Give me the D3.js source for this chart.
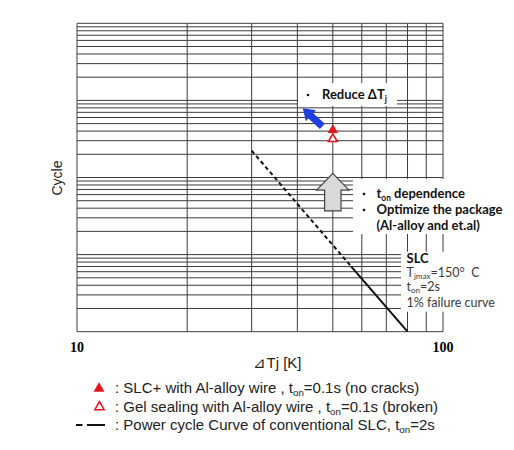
<!DOCTYPE html>
<html>
<head>
<meta charset="utf-8">
<script src="https://cdn.jsdelivr.net/npm/d3@7"></script>
<style>
  body { margin: 0; background: #fff; }
  svg { display: block; }
</style>
</head>
<body>
<div id="chart"></div>
<script>
// --- Data ---
const xTickLabels = ["10", "100"];
const xTickValues = [10, 100];
// conventional SLC power cycle curve, 1% failure, ton=2s
const curveDashed = [[30, 2.23e6], [56, 7.1e4]];
const curveSolid = [[56, 7.1e4], [80, 1.0e4]];
// test points
const slcPlus = [[50, 4.13e6]];     // SLC+ with Al-alloy wire, ton=0.1s (no cracks)
const gelSealing = [[50, 3.16e6]];  // Gel sealing with Al-alloy wire, ton=0.1s (broken)
// annotation arrows [dTj, cycles]
const blueArrow = [[46.8, 4.6e6], [41.4, 7.9e6]];
const grayArrow = [[50, 3.68e5], [50, 1.13e6]];

const legendItems = [
    [{t: ": SLC+ with Al-alloy wire , t"}, {t: "on", sub: true}, {t: "=0.1s (no cracks)"}],
    [{t: ": Gel sealing with Al-alloy wire , t"}, {t: "on", sub: true}, {t: "=0.1s (broken)"}],
    [{t: ": Power cycle Curve of conventional SLC, t"}, {t: "on", sub: true}, {t: "=2s"}]
];

const width = 514, height = 450;
const plotLeft = 77, plotRight = 443, plotTop = 23.3, plotBottom = 331.7;
const gridColor = "#3c3c3c";
const red = "#e8141c";

const svg = d3.select("#chart").append("svg")
    .attr("width", width)
    .attr("height", height);

const x = d3.scaleLog().domain([10, 100]).range([plotLeft, plotRight]);
const y = d3.scaleLog().domain([1e4, 1e8]).range([plotBottom, plotTop]);

// --- Grid ---
const grid = svg.append("g").attr("stroke", gridColor).attr("stroke-width", 1);
grid.selectAll("line.v")
    .data(x.ticks())
    .enter().append("line")
    .attr("x1", d => x(d)).attr("x2", d => x(d))
    .attr("y1", plotTop).attr("y2", plotBottom);
grid.selectAll("line.h")
    .data(y.ticks())
    .enter().append("line")
    .attr("y1", d => y(d)).attr("y2", d => y(d))
    .attr("x1", plotLeft).attr("x2", plotRight);

// --- White boxes behind annotations (hide the grid) ---
const boxes = [
    [298, 83, 99, 23],     // Reduce dTj
    [353, 179, 161, 55],   // ton dependence
    [401, 251.7, 113, 60]  // SLC
];
svg.append("g").selectAll("rect")
    .data(boxes)
    .enter().append("rect")
    .attr("x", d => d[0]).attr("y", d => d[1])
    .attr("width", d => d[2]).attr("height", d => d[3])
    .attr("fill", "#fff");

// --- Curve ---
const line = d3.line().x(d => x(d[0])).y(d => y(d[1]));
svg.append("path")
    .attr("d", line(curveDashed))
    .attr("fill", "none")
    .attr("stroke", "#111")
    .attr("stroke-width", 2)
    .attr("stroke-dasharray", "4,3");
svg.append("path")
    .attr("d", line(curveSolid))
    .attr("fill", "none")
    .attr("stroke", "#111")
    .attr("stroke-width", 2);

// --- Gray arrow (ton dependence / package) ---
{
    const cx = x(grayArrow[0][0]);
    const yb = y(grayArrow[0][1]), yt = y(grayArrow[1][1]);
    const hw = 16.2, sw = 8.2, hh = 16.7;
    const pts = [
        [cx, yt], [cx + hw, yt + hh], [cx + sw, yt + hh], [cx + sw, yb],
        [cx - sw, yb], [cx - sw, yt + hh], [cx - hw, yt + hh]
    ];
    svg.append("polygon")
        .attr("points", pts.map(p => p.join(",")).join(" "))
        .attr("fill", "#d9d9d9")
        .attr("stroke", "#444")
        .attr("stroke-width", 1.2);
}

// --- Blue arrow (reduce dTj) ---
{
    const [x0, y0] = [x(blueArrow[0][0]), y(blueArrow[0][1])];
    const [x1, y1] = [x(blueArrow[1][0]), y(blueArrow[1][1])];
    const len = Math.hypot(x1 - x0, y1 - y0);
    const ang = Math.atan2(y1 - y0, x1 - x0) * 180 / Math.PI;
    const sw = 3.6, hw = 7.5, hl = 11;
    const pts = [[0, -sw], [len - hl, -sw], [len - hl, -hw], [len, 0], [len - hl, hw], [len - hl, sw], [0, sw]];
    svg.append("polygon")
        .attr("points", pts.map(p => p.join(",")).join(" "))
        .attr("transform", `translate(${x0},${y0}) rotate(${ang})`)
        .attr("fill", "#1f3fe0");
}

// --- Test points ---
const tri = d3.symbol().type(d3.symbolTriangle);
svg.selectAll("path.slcplus")
    .data(slcPlus)
    .enter().append("path")
    .attr("class", "slcplus")
    .attr("d", tri.size(46)())
    .attr("transform", d => `translate(${x(d[0])},${y(d[1])})`)
    .attr("fill", red);
svg.selectAll("path.gel")
    .data(gelSealing)
    .enter().append("path")
    .attr("class", "gel")
    .attr("d", tri.size(34)())
    .attr("transform", d => `translate(${x(d[0])},${y(d[1])})`)
    .attr("fill", "#fff")
    .attr("stroke", red)
    .attr("stroke-width", 1.6);

// --- Text helper with subscripts ---
function richText(g, tx, ty, parts, size, attrs) {
    const t = g.append("text").attr("x", tx).attr("y", ty).attr("font-size", size);
    Object.entries(attrs || {}).forEach(([k, v]) => t.attr(k, v));
    let down = false;
    parts.forEach(p => {
        const s = t.append("tspan").text(p.t);
        if (p.sub && !down) { s.attr("dy", size * 0.2).attr("font-size", size * 0.65); down = true; }
        else if (!p.sub && down) { s.attr("dy", -size * 0.2); down = false; }
    });
    return t;
}

function bullet(g, bx, by) {
    g.append("circle").attr("cx", bx).attr("cy", by).attr("r", 1.3).attr("fill", "#111");
}

const ann = svg.append("g").attr("font-family", "Lato, 'Open Sans', sans-serif").attr("fill", "#111");

// Reduce dTj
bullet(ann, 308, 95);
richText(ann, 322, 99, [{t: "Reduce ΔT"}, {t: "j", sub: true}], 13, {"font-weight": "bold"});

// ton dependence / optimize
bullet(ann, 364, 194);
richText(ann, 376.5, 198, [{t: "t"}, {t: "on", sub: true}, {t: " dependence"}], 13, {"font-weight": "bold"});
bullet(ann, 364, 210);
ann.append("text").attr("x", 376.5).attr("y", 214).attr("font-size", 13).attr("font-weight", "bold").text("Optimize the package");
ann.append("text").attr("x", 376.5).attr("y", 229.5).attr("font-size", 13).attr("font-weight", "bold").text("(Al-alloy and et.al)");

// SLC box
ann.append("text").attr("x", 406.5).attr("y", 262.5).attr("font-size", 13).attr("font-weight", "bold").text("SLC");
richText(ann, 406.5, 276.5, [{t: "T"}, {t: "jmax", sub: true}, {t: "=150°\u00a0 C"}], 12.5, {fill: "#3a3a3a"});
richText(ann, 406.5, 290.5, [{t: "t"}, {t: "on", sub: true}, {t: "=2s"}], 12.5, {fill: "#3a3a3a"});
ann.append("text").attr("x", 406.5).attr("y", 306.5).attr("font-size", 12.5).attr("fill", "#3a3a3a").text("1% failure curve");

// --- Axis labels ---
svg.selectAll("text.xtick")
    .data(xTickValues)
    .enter().append("text")
    .attr("class", "xtick")
    .attr("x", d => x(d))
    .attr("y", 352)
    .attr("text-anchor", "middle")
    .attr("font-family", "'Liberation Serif', 'Times New Roman', serif")
    .attr("font-weight", "bold")
    .attr("font-size", 14)
    .text((d, i) => xTickLabels[i]);

svg.append("text")
    .attr("x", 277.5).attr("y", 367.5)
    .attr("text-anchor", "middle")
    .attr("font-family", "'Liberation Sans', Arial, sans-serif")
    .attr("font-size", 15)
    .attr("fill", "#222")
    .text("⊿Tj [K]");

svg.append("text")
    .attr("transform", "translate(62,178) rotate(-90)")
    .attr("text-anchor", "middle")
    .attr("font-family", "'Liberation Sans', Arial, sans-serif")
    .attr("font-size", 14)
    .attr("fill", "#222")
    .text("Cycle");

// --- Legend ---
const leg = svg.append("g").attr("font-family", "'Liberation Sans', Arial, sans-serif").attr("fill", "#222");
const legY = [393, 411.5, 429.5];
leg.append("path").attr("d", tri.size(52)()).attr("transform", `translate(99,${legY[0] - 4.5})`).attr("fill", red);
leg.append("path").attr("d", tri.size(38)()).attr("transform", `translate(99.5,${legY[1] - 4.5})`)
    .attr("fill", "#fff").attr("stroke", red).attr("stroke-width", 1.5);
leg.append("line").attr("x1", 76).attr("x2", 82.5).attr("y1", legY[2] - 4.5).attr("y2", legY[2] - 4.5)
    .attr("stroke", "#111").attr("stroke-width", 2);
leg.append("line").attr("x1", 87).attr("x2", 105).attr("y1", legY[2] - 4.5).attr("y2", legY[2] - 4.5)
    .attr("stroke", "#111").attr("stroke-width", 2);
legendItems.forEach((parts, i) => richText(leg, 115, legY[i], parts, 15));
</script>
</body>
</html>
